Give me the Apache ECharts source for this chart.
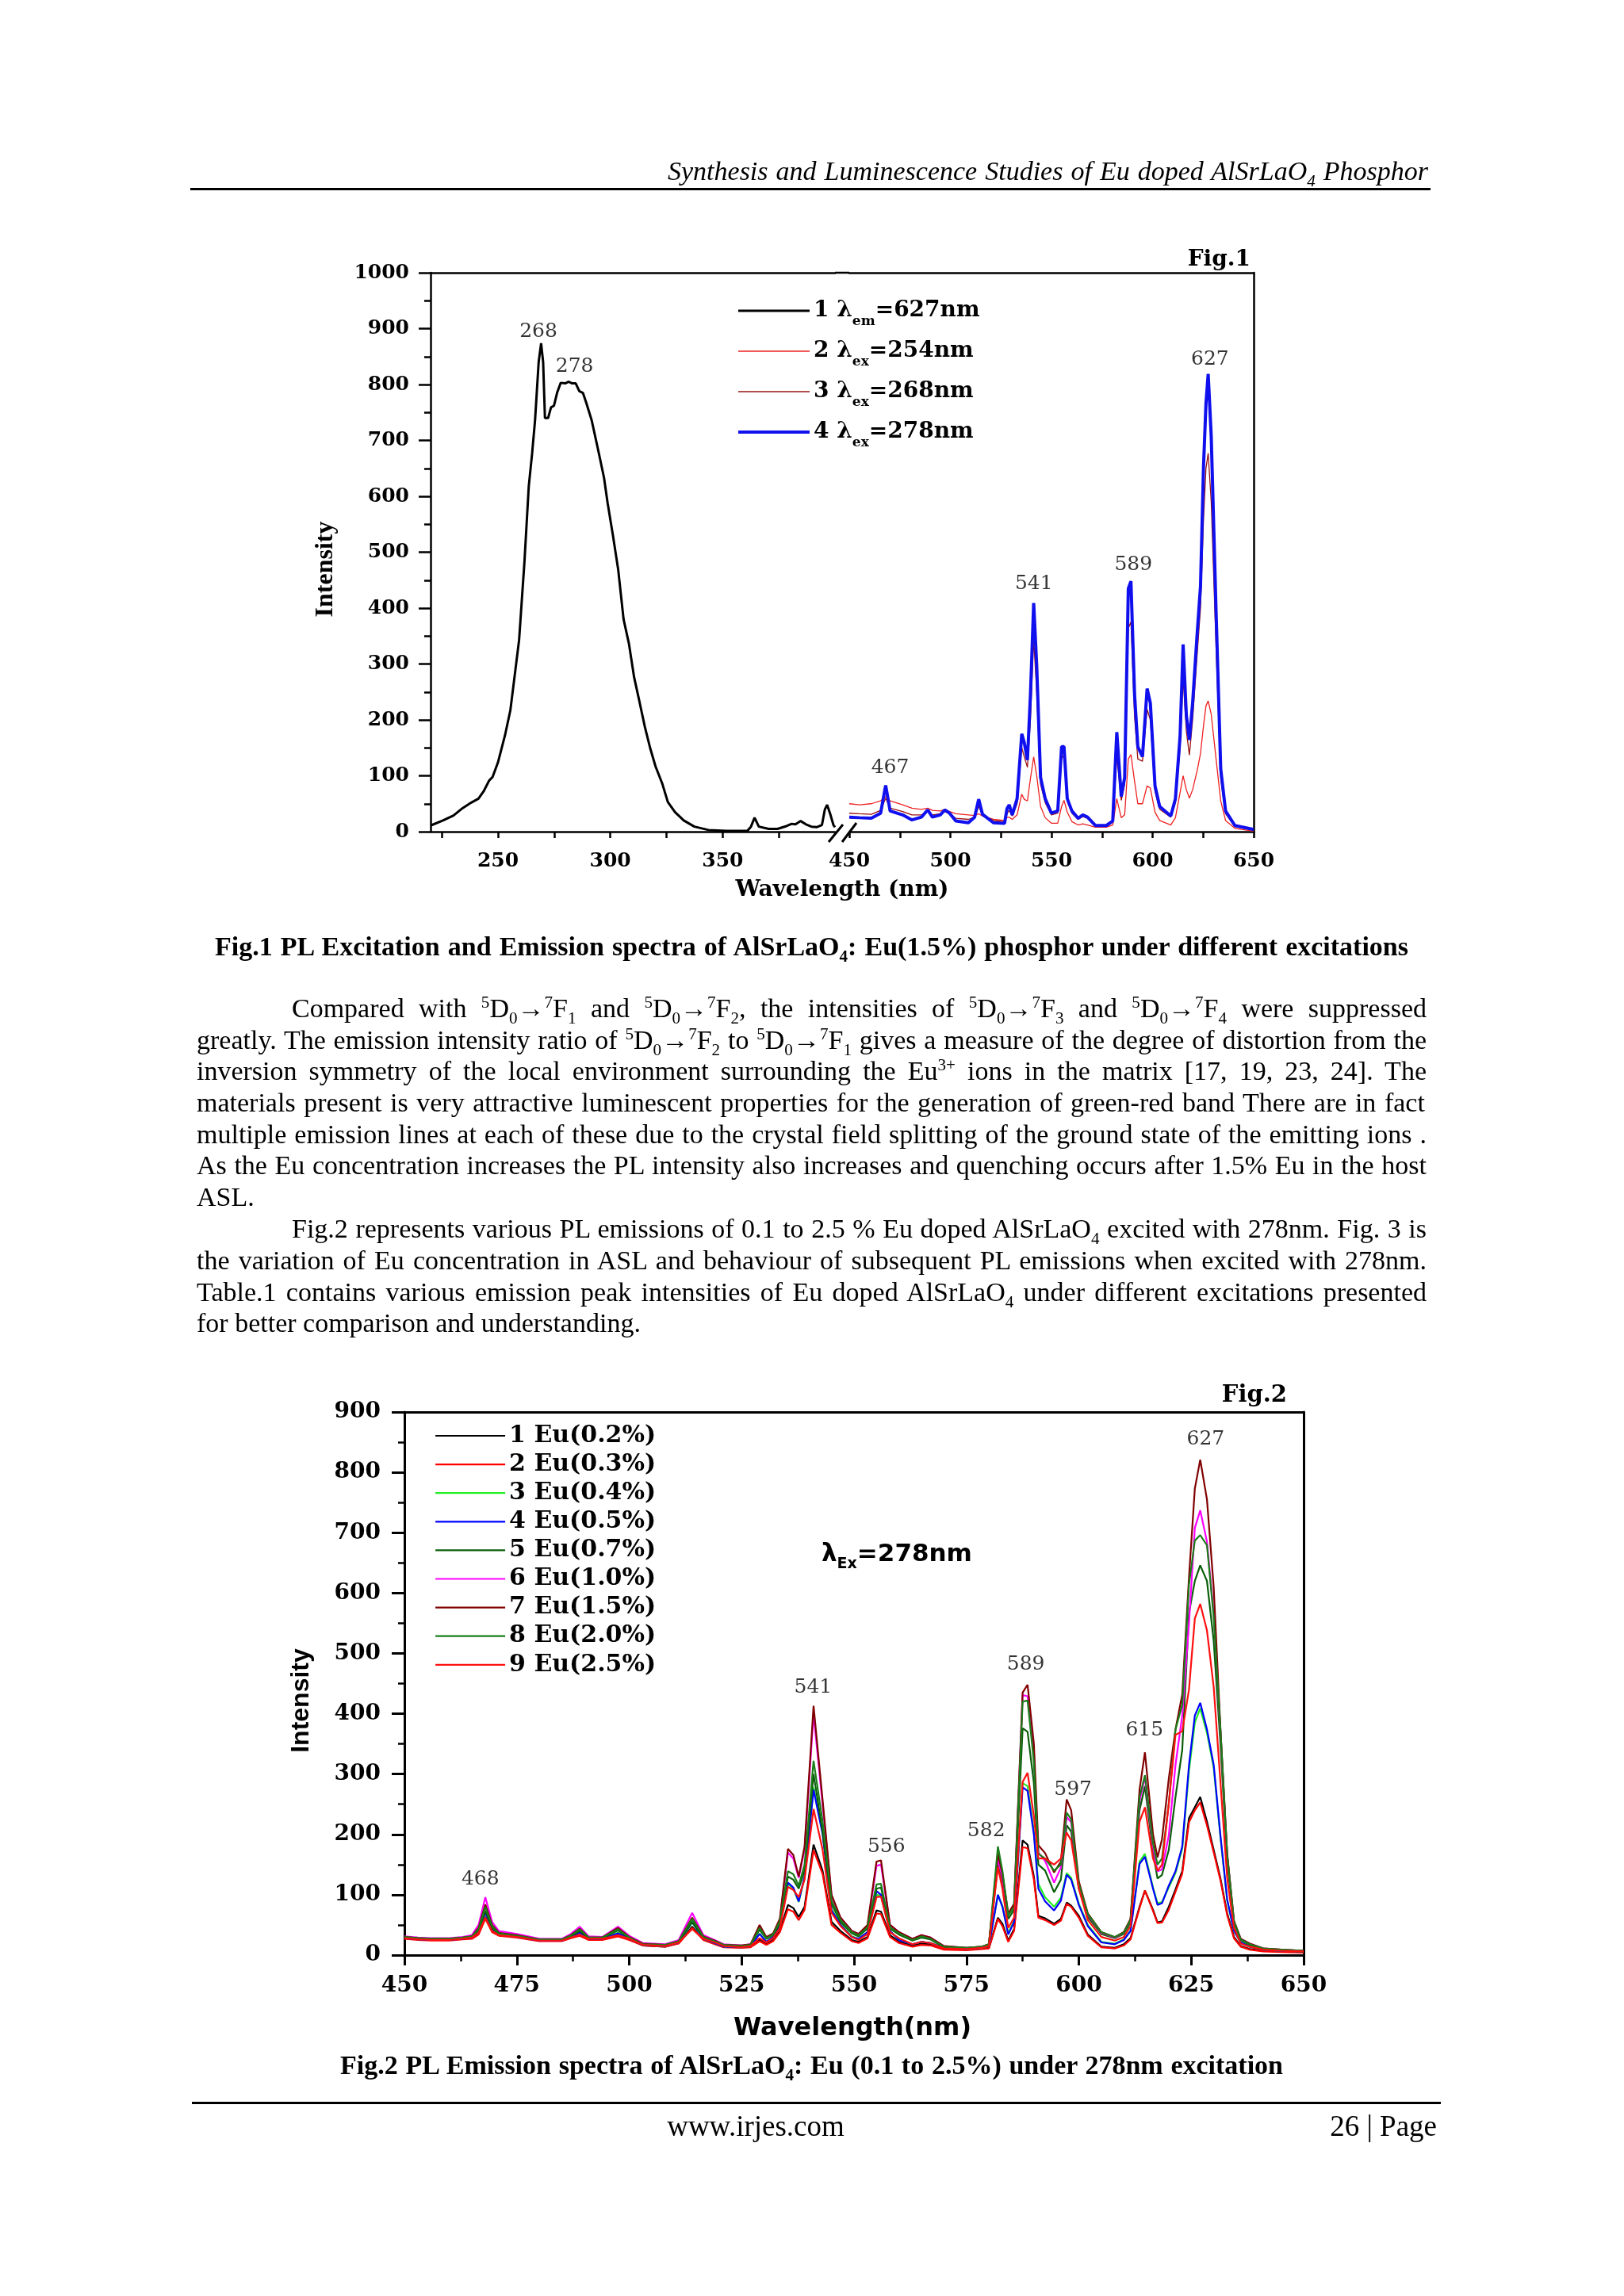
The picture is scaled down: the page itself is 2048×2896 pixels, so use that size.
<!DOCTYPE html>
<html><head><meta charset="utf-8">
<script src="https://cdn.jsdelivr.net/npm/echarts@6/dist/echarts.min.js"></script>
<style>
html,body{margin:0;padding:0;background:#fff;}
#page{position:relative;width:2048px;height:2896px;background:#fff;overflow:hidden;}
#chart{position:absolute;left:0;top:0;width:2048px;height:2896px;}
.t{position:absolute;white-space:nowrap;font-family:"Liberation Serif","Times New Roman",serif;color:#000;line-height:40px;font-size:34px;}
.t sub,.t sup{font-size:0.62em;line-height:0;}
.b{font-weight:bold;font-size:34px;}
.rule{position:absolute;background:#000;}
</style></head>
<body>
<div id="page">
<div id="chart"></div>
<div class="t" style="left:842px;top:196px;font-style:italic;font-size:34px;" data-w="959">Synthesis and Luminescence Studies of Eu doped AlSrLaO<sub>4</sub> Phosphor</div>
<div class="rule" style="left:240px;top:237px;width:1564px;height:3px;"></div>
<div class="t b" style="left:271px;top:1174px;" data-w="1505">Fig.1 PL Excitation and Emission spectra of AlSrLaO<sub>4</sub>: Eu(1.5%) phosphor under different excitations</div>
<div class="t" style="left:368px;top:1252px;" data-w="1431">Compared with <sup>5</sup>D<sub>0</sub>→<sup>7</sup>F<sub>1</sub> and <sup>5</sup>D<sub>0</sub>→<sup>7</sup>F<sub>2</sub>, the intensities of <sup>5</sup>D<sub>0</sub>→<sup>7</sup>F<sub>3</sub> and <sup>5</sup>D<sub>0</sub>→<sup>7</sup>F<sub>4</sub> were suppressed</div>
<div class="t" style="left:248px;top:1292px;" data-w="1551">greatly. The emission intensity ratio of <sup>5</sup>D<sub>0</sub>→<sup>7</sup>F<sub>2</sub> to <sup>5</sup>D<sub>0</sub>→<sup>7</sup>F<sub>1</sub> gives a measure of the degree of distortion from the</div>
<div class="t" style="left:248px;top:1331px;" data-w="1551">inversion symmetry of the local environment surrounding the Eu<sup>3+</sup> ions in the matrix [17, 19, 23, 24]. The</div>
<div class="t" style="left:248px;top:1371px;" data-w="1551">materials present is very attractive luminescent properties for the generation of green-red band  There are in fact</div>
<div class="t" style="left:248px;top:1411px;" data-w="1551">multiple emission lines at each of these due to the crystal field splitting of the ground state of the emitting ions .</div>
<div class="t" style="left:248px;top:1450px;" data-w="1551">As the Eu concentration increases the PL intensity also increases and quenching occurs after 1.5% Eu in the host</div>
<div class="t" style="left:248px;top:1490px;">ASL.</div>
<div class="t" style="left:368px;top:1530px;" data-w="1431">Fig.2 represents various PL emissions of 0.1 to 2.5 % Eu doped AlSrLaO<sub>4</sub> excited with 278nm. Fig. 3 is</div>
<div class="t" style="left:248px;top:1570px;" data-w="1551">the variation of Eu concentration in ASL and behaviour of subsequent PL emissions when excited with 278nm.</div>
<div class="t" style="left:248px;top:1610px;" data-w="1551">Table.1 contains various emission peak intensities of Eu doped AlSrLaO<sub>4</sub> under different excitations presented</div>
<div class="t" style="left:248px;top:1649px;">for better comparison and understanding.</div>
<div class="t b" style="left:429px;top:2585px;" data-w="1189">Fig.2 PL Emission spectra of AlSrLaO<sub>4</sub>: Eu (0.1 to 2.5%) under 278nm excitation</div>
<div class="rule" style="left:242px;top:2651px;width:1575px;height:3px;"></div>
<div class="t" style="left:953px;top:2662px;font-size:37px;transform:translateX(-50%);">www.irjes.com</div>
<div class="t" style="right:236px;top:2662px;font-size:37px;">26 | Page</div>
</div>
<script>
// ---------- Fig.1 data ----------
const exWl = [220,225.5,230.2,234.2,238.1,241.3,243.6,246,247.6,250,253.1,255.5,257.8,259.4,261.8,263.7,265.2,266.5,268.1,269.2,270.1,270.9,272.3,273.6,274.9,276.3,277.9,279.9,281.5,283,284.6,286.2,287.8,289.4,291.7,294.9,297.2,298.8,301.2,303.5,305.9,308.3,310.6,313,315.4,317.7,320.1,323.2,325.6,328.8,332.7,337.4,343.7,351.6,361,362.6,364.2,366.1,370.5,374.4,378.4,380.7,382.4,384.7,387.1,389.5,391.8,394.2,395.5,396.5,398,399.3,400];
const exVal = [11,20,29,42,52,59,72,91,98,124,172,217,291,343,484,618,677,736,840,874,840,740,740,759,762,785,803,802,805,802,802,788,785,766,736,677,633,588,529,469,380,336,276,232,187,150,117,85,53,35,20,9,3,1.5,1.5,9,25,9,5,5,10,14,13,19,13,9,8,12,40,48,30,12,8];

const emWl = [450,455,460.9,465.5,468,470.2,476.4,481,485.7,488.8,491.1,495,497.3,499.6,502.7,508.9,512,514,515.9,521.3,526.8,528,529.1,530.6,533,535.3,536.5,538.1,539.6,541.2,542.7,544.6,546.9,550,553.1,555,556.2,557.8,560.1,563.2,565.5,567.8,571.7,577.1,580.3,582.3,584.5,586.2,588,589.3,591.1,592.7,595,597.3,598.9,601.2,603.5,609,611.3,613.6,615.1,616.7,618.2,619.8,622.1,623.7,625.2,626.4,627.5,629,631.4,633.7,636.1,640.7,650];
const em254 = [50,48,50,55,63,55,48,42,40,42, 38,37,40,36,32,30,29,32,28,22, 20,25,26,22,30,67,58,55,95,134, 100,45,25,15,15,45,56,35,18,12, 14,12,8,8,12,59,25,30,130,138, 90,50,50,82,78,35,20,12,25,70, 100,75,60,75,110,140,190,225,234,210, 130,55,20,6,1];
const em268 = [33,32,31,38,60,42,36,30,30,36, 30,32,36,32,24,22,26,45,30,20, 18,32,38,28,50,150,135,115,200,345, 250,85,52,30,33,130,137,55,33,22, 27,24,10,10,17,135,56,85,364,375, 205,130,126,219,200,72,40,26,52,150, 275,180,137,200,320,400,560,650,677,590, 330,95,32,9,3];
const em278 = [26,25,24,33,83,37,30,21,26,39, 26,30,39,33,19,16,26,58,31,16, 15,41,48,30,59,175,160,128,245,409, 297,97,59,33,37,152,152,59,37,24, 30,26,11,11,19,178,63,97,435,448, 245,152,134,256,230,82,45,28,59,171, 335,208,164,230,357,439,654,766,819,708, 394,112,37,11,4];

const fig1Legend = [['1 λ','em','=627nm'],['2 λ','ex','=254nm'],['3 λ','ex','=268nm'],['4 λ','ex','=278nm']];
const fig1LeftTicks = [225,250,275,300,325,350,375];
const fig1LeftLabels = [250,300,350];
const peaks1Left = [[268,894,'268'],[284.1,832,'278']];
const peaks1Right = [[470.2,114,'467'],[541.3,443,'541'],[590.5,477,'589'],[628.4,844,'627']];

// ---------- Fig.2 data ----------
const f2Wl = [450,453,456,460,463,465,466.5,468,469.5,471, 475,480,485,487,489,491,494,497.5,500,503, 508,511,514,516.5,519,521,525,527,529,530.5, 532,533.5,535.3,536.5,537.7,539,541,543,545,547, 549.5,551,553,555,556,558,560,563,565,567, 570,575,578.5,580,582,583,584.3,585.6,587.5,588.6, 590,591,592.5,594.5,596,597.3,598.3,600,602,605, 608,610,611.5,613.5,614.7,616.5,617.5,618.5,620,621.5, 623,624.5,625.8,627,628.5,630,631.5,633,634.5,636, 638,641,645,650];
const eu02 = [28,26,25,25,27,28,36,63,40,33, 30,24,24,29,33,26,26,32,26,16, 14,20,47,26,19,14,13,14,25,18, 25,40,83,78,63,80,183,140,55,40, 25,22,30,74,72,33,22,16,19,18, 10,9,11,12,62,52,24,43,190,183, 130,65,61,52,60,87,82,65,34,14, 12,18,28,80,107,75,54,56,80,109, 139,227,245,262,221,174,127,69,30,15, 10,7,6,5];
const eu03 = [27,25,24,24,26,27,34,60,38,32, 29,23,23,28,32,25,25,31,25,16, 14,19,45,25,18,13,12,13,23,17, 23,38,76,72,58,75,174,135,50,37, 23,20,28,69,68,30,20,14,17,16, 9,8,10,11,60,48,22,40,179,177, 125,62,58,50,57,85,80,62,32,13, 11,16,26,78,107,73,53,54,75,105, 135,220,240,253,215,170,124,66,28,14, 9,6,5,4];
const eu04 = [29,27,26,26,28,30,39,72,43,35, 31,25,25,30,38,28,28,37,28,17, 15,21,54,27,20,14,13,15,36,22, 30,48,118,110,88,128,278,205,76,51, 31,27,38,100,98,40,25,18,22,20, 12,10,12,15,100,82,36,57,285,280, 205,118,96,80,95,136,128,85,50,22, 19,26,41,155,168,112,86,88,112,136, 176,305,385,409,368,310,195,90,40,21, 14,9,7,6];
const eu05 = [28,26,25,25,27,29,38,70,42,34, 30,24,24,30,37,27,27,36,27,17, 15,21,55,27,20,14,13,15,35,22, 30,48,120,112,89,130,274,201,74,50, 30,27,38,106,100,40,25,18,22,20, 12,10,12,15,100,80,34,55,278,272, 200,110,89,74,90,133,125,83,48,21, 18,25,40,151,163,110,83,86,115,139, 180,315,397,418,374,315,198,92,40,21, 14,9,7,6];
const eu07 = [29,27,26,26,28,30,40,73,45,35, 31,25,25,31,40,28,28,41,28,18, 16,22,55,29,22,16,15,17,42,27, 33,52,130,125,110,140,300,205,85,55, 36,31,44,110,112,44,34,24,29,26, 13,11,13,17,150,120,60,75,376,370, 285,150,140,104,125,215,205,110,63,35, 28,35,54,240,280,170,127,133,174,262, 340,567,620,646,620,520,350,155,52,25, 17,10,8,6];
const eu10 = [31,29,28,28,30,33,50,96,55,40, 35,27,27,35,47,31,30,47,32,20, 18,25,70,33,25,18,16,18,46,29, 35,58,170,160,128,175,400,250,98,62, 40,35,48,148,150,50,38,27,33,29, 15,12,14,18,160,128,66,82,431,429, 330,170,156,120,145,229,220,118,67,37, 29,37,58,255,295,180,139,142,198,315, 397,550,708,737,685,565,370,165,56,27, 19,11,9,7];
const eu15 = [30,28,27,27,29,31,45,84,50,37, 33,26,26,33,44,29,29,45,30,19, 17,23,62,31,24,17,16,18,50,30, 36,60,176,166,130,180,413,258,100,62, 40,35,50,155,157,50,38,27,33,29, 15,12,14,18,168,135,69,85,435,448, 350,182,169,137,155,258,240,122,69,38, 30,38,60,274,336,200,162,192,292,374, 432,626,773,821,755,609,374,168,57,27, 19,11,9,7];
const eu20 = [30,28,27,27,29,31,43,80,48,36, 32,26,26,32,43,29,29,43,29,18, 17,23,60,30,23,17,15,17,45,28, 34,56,139,134,115,150,322,222,90,58, 38,33,46,117,118,46,36,25,31,27, 14,12,14,18,180,140,66,80,420,422, 320,168,160,140,150,236,225,118,68,38, 30,37,58,262,298,185,150,160,250,374, 415,614,687,696,679,560,374,165,56,26, 18,11,9,7];
const eu25 = [28,26,25,25,27,29,37,62,40,33, 30,24,24,29,34,27,27,33,27,17, 15,21,43,27,21,15,13,15,28,21, 28,45,113,108,96,125,242,175,70,48, 30,25,35,96,97,38,28,18,22,20, 11,10,12,15,146,110,45,62,287,302, 230,160,160,150,160,203,190,110,58,30, 24,30,48,221,245,160,140,150,250,365, 371,440,558,582,538,444,286,127,45,19, 14,9,7,6];

const fig2Names = ['1 Eu(0.2%)','2 Eu(0.3%)','3 Eu(0.4%)','4 Eu(0.5%)','5 Eu(0.7%)','6 Eu(1.0%)','7 Eu(1.5%)','8 Eu(2.0%)','9 Eu(2.5%)'];
const fig2Values = [eu02,eu03,eu04,eu05,eu07,eu10,eu15,eu20,eu25];
const fig2Colors = ['#000000','#ff0000','#22ee22','#0000ff','#0a5e0a','#ff00ff','#800000','#1a7d1a','#ff1010'];
const peaks2 = [[466.9,126,'468'],[540.9,443,'541'],[557.2,180,'556'],[579.4,206,'582'],[588.2,481,'589'],[598.7,274,'597'],[614.6,373,'615'],[628.2,855,'627']];

// ---------- build ----------
const zip = (xs, ys) => xs.map((x, i) => [x, ys[i]]);
const NUMF = 'DejaVu Serif';
const plain = v => String(v);

function lineAxisOnly(grid, pos, min, max, w) {
  return {gridIndex: grid, type: 'value', position: pos, min: min, max: max,
    axisLine: {show: true, onZero: false, lineStyle: {color: '#000', width: w}},
    axisTick: {show: false}, axisLabel: {show: false}, splitLine: {show: false}, minorTick: {show: false}};
}
const AX = {color: '#000', width: 2.5};

const xAxes = [
  {gridIndex: 0, type: 'value', position: 'bottom', min: 220, max: 400,
    axisLine: {show: true, onZero: false, lineStyle: AX},
    axisTick: {show: true, inside: false, length: 8, lineStyle: AX, customValues: fig1LeftTicks},
    axisLabel: {show: true, customValues: fig1LeftLabels, formatter: plain, fontFamily: NUMF, fontWeight: 'bold', fontSize: 25, color: '#000', margin: 25},
    splitLine: {show: false}},
  lineAxisOnly(0, 'top', 220, 400, 2.5),
  {gridIndex: 1, type: 'value', position: 'bottom', min: 450, max: 650, interval: 50,
    axisLine: {show: true, onZero: false, lineStyle: AX},
    axisTick: {show: true, inside: false, length: 8, lineStyle: AX},
    minorTick: {show: true, splitNumber: 2, length: 8, lineStyle: AX},
    axisLabel: {show: true, formatter: plain, fontFamily: NUMF, fontWeight: 'bold', fontSize: 25, color: '#000', margin: 25},
    splitLine: {show: false}, minorSplitLine: {show: false}},
  lineAxisOnly(1, 'top', 450, 650, 2.5),
  {gridIndex: 2, type: 'value', position: 'bottom', min: 450, max: 650, interval: 25,
    axisLine: {show: true, onZero: false, lineStyle: {color: '#000', width: 3}},
    axisTick: {show: true, inside: false, length: 13, lineStyle: {color: '#000', width: 3}},
    minorTick: {show: true, splitNumber: 2, length: 8, lineStyle: {color: '#000', width: 2.5}},
    axisLabel: {show: true, formatter: plain, fontFamily: NUMF, fontWeight: 'bold', fontSize: 28, color: '#000', margin: 25},
    splitLine: {show: false}, minorSplitLine: {show: false}},
  lineAxisOnly(2, 'top', 450, 650, 3)
];
const yAxes = [
  {gridIndex: 0, type: 'value', position: 'left', min: 0, max: 1000, interval: 100,
    axisLine: {show: true, onZero: false, lineStyle: AX},
    axisTick: {show: true, inside: false, length: 15, lineStyle: AX},
    minorTick: {show: true, splitNumber: 2, length: 8, lineStyle: AX},
    axisLabel: {show: true, formatter: plain, fontFamily: NUMF, fontWeight: 'bold', fontSize: 25, color: '#000', margin: 27},
    splitLine: {show: false}, minorSplitLine: {show: false}},
  {gridIndex: 1, type: 'value', position: 'left', min: 0, max: 1000, show: false, splitLine: {show: false}},
  lineAxisOnly(1, 'right', 0, 1000, 2.5),
  {gridIndex: 2, type: 'value', position: 'left', min: 0, max: 900, interval: 100,
    axisLine: {show: true, onZero: false, lineStyle: {color: '#000', width: 3}},
    axisTick: {show: true, inside: false, length: 16, lineStyle: {color: '#000', width: 3}},
    minorTick: {show: true, splitNumber: 2, length: 8, lineStyle: {color: '#000', width: 2.5}},
    axisLabel: {show: true, formatter: plain, fontFamily: NUMF, fontWeight: 'bold', fontSize: 28, color: '#000', margin: 30},
    splitLine: {show: false}, minorSplitLine: {show: false}},
  lineAxisOnly(2, 'right', 0, 900, 3)
];

function lineSeries(name, data, xi, yi, color, width, z) {
  return {name: name, type: 'line', xAxisIndex: xi, yAxisIndex: yi, data: data,
    symbol: 'none', showSymbol: false, smooth: false, animation: false, z: z || 2,
    lineStyle: {color: color, width: width}, itemStyle: {color: color}, emphasis: {disabled: true}};
}
function labelSeries(data, xi, yi, size) {
  return {type: 'scatter', xAxisIndex: xi, yAxisIndex: yi, data: data, symbolSize: 1, silent: true, animation: false, z: 5,
    itemStyle: {color: 'rgba(0,0,0,0)'},
    label: {show: true, position: 'inside', formatter: p => p.value[2], fontFamily: NUMF, fontSize: size, color: '#000'}};
}

const fig1Names = fig1Legend.map(p => p.join(''));
const fig1Colors = ['#000000', '#ee2020', '#9a1010', '#1010ee'];
const fig1Widths = [3, 1.3, 1.3, 4];
const series = [
  lineSeries(fig1Names[0], zip(exWl, exVal), 0, 0, fig1Colors[0], fig1Widths[0]),
  lineSeries(fig1Names[1], zip(emWl, em254), 2, 1, fig1Colors[1], fig1Widths[1]),
  lineSeries(fig1Names[2], zip(emWl, em268), 2, 1, fig1Colors[2], fig1Widths[2]),
  lineSeries(fig1Names[3], zip(emWl, em278), 2, 1, fig1Colors[3], fig1Widths[3]),
];
fig2Names.forEach((n, i) => series.push(lineSeries(n, zip(f2Wl, fig2Values[i]), 4, 3, fig2Colors[i], 2.2, 2 + i * 0.01)));
series.push(labelSeries(peaks1Left, 0, 0, 25));
series.push(labelSeries(peaks1Right, 2, 1, 25));
series.push(labelSeries(peaks2, 4, 3, 25));

const rich1 = {
  a: {fontFamily: NUMF, fontWeight: 'bold', fontSize: 28, lineHeight: 44, color: '#000', verticalAlign: 'middle'},
  s: {fontFamily: NUMF, fontWeight: 'bold', fontSize: 17, lineHeight: 44, color: '#000', verticalAlign: 'bottom'}
};

const option = {
  backgroundColor: '#fff',
  animation: false,
  grid: [
    {left: 543, top: 344, width: 510, height: 705, containLabel: false, outerBoundsMode: 'none'},
    {left: 1071, top: 344, width: 510, height: 705, containLabel: false, outerBoundsMode: 'none'},
    {left: 510, top: 1781, width: 1134, height: 685, containLabel: false, outerBoundsMode: 'none'}
  ],
  xAxis: xAxes,
  yAxis: yAxes,
  legend: [
    {data: fig1Names.map((n, i) => ({name: n, lineStyle: {width: fig1Widths[i], color: fig1Colors[i]}})),
      orient: 'vertical', left: 929, top: 370, itemWidth: 90, itemHeight: 14, itemGap: 7,
      selectedMode: false, padding: 0, itemStyle: {opacity: 0},
      formatter: name => { const p = fig1Legend[fig1Names.indexOf(name)]; return '{a|' + p[0] + '}{s|' + p[1] + '}{a|' + p[2] + '}'; },
      textStyle: {rich: rich1, lineHeight: 44}},
    {data: fig2Names.map((n, i) => ({name: n, lineStyle: {width: 2.2, color: fig2Colors[i]}})),
      orient: 'vertical', left: 548, top: 1796, itemWidth: 88, itemHeight: 14, itemGap: 6.1,
      selectedMode: false, padding: 0, itemStyle: {opacity: 0},
      textStyle: {fontFamily: NUMF, fontWeight: 'bold', fontSize: 30, lineHeight: 30, color: '#000'}}
  ],
  graphic: [
    {type: 'text', x: 1577, y: 328, style: {text: 'Fig.1', font: 'bold 28px "DejaVu Serif"', fill: '#000', textAlign: 'right', textVerticalAlign: 'middle'}},
    {type: 'text', x: 1623, y: 1760, style: {text: 'Fig.2', font: 'bold 29px "DejaVu Serif"', fill: '#000', textAlign: 'right', textVerticalAlign: 'middle'}},
    {type: 'text', x: 411, y: 718, rotation: Math.PI / 2, style: {text: 'Intensity', font: 'bold 32px "Liberation Serif"', fill: '#000', textAlign: 'center', textVerticalAlign: 'middle'}},
    {type: 'text', x: 1062, y: 1123, style: {text: 'Wavelength (nm)', font: 'bold 28px "DejaVu Serif"', fill: '#000', textAlign: 'center', textVerticalAlign: 'middle'}},
    {type: 'text', x: 380, y: 2145, rotation: Math.PI / 2, style: {text: 'Intensity', font: 'bold 32px "Liberation Sans"', fill: '#000', textAlign: 'center', textVerticalAlign: 'middle'}},
    {type: 'text', x: 1075, y: 2559, style: {text: 'Wavelength(nm)', font: 'bold 32px "DejaVu Sans"', fill: '#000', textAlign: 'center', textVerticalAlign: 'middle'}},
    {type: 'text', x: 1036, y: 1939, style: {text: '{a|λ}{s|Ex}{a|=278nm}', textAlign: 'left', textVerticalAlign: 'top',
      rich: {a: {fontFamily: 'DejaVu Sans', fontWeight: 'bold', fontSize: 31, lineHeight: 44, fill: '#000', color: '#000', verticalAlign: 'middle'},
             s: {fontFamily: 'DejaVu Sans', fontWeight: 'bold', fontSize: 19, lineHeight: 44, fill: '#000', color: '#000', verticalAlign: 'bottom'}}}},
    {type: 'line', shape: {x1: 1053, y1: 344, x2: 1071, y2: 344}, style: {stroke: '#000', lineWidth: 2.5}},
    {type: 'line', shape: {x1: 1045, y1: 1062, x2: 1063, y2: 1040}, style: {stroke: '#000', lineWidth: 3}},
    {type: 'line', shape: {x1: 1062, y1: 1062, x2: 1080, y2: 1038}, style: {stroke: '#000', lineWidth: 3}}
  ],
  series: series
};

const chart = echarts.init(document.getElementById('chart'), null, {renderer: 'canvas'});
chart.setOption(option);

// justify each text line to its measured width
document.querySelectorAll('[data-w]').forEach(el => {
  const target = +el.dataset.w;
  const w = el.getBoundingClientRect().width;
  const n = (el.textContent.match(/ /g) || []).length;
  if (n > 0) el.style.wordSpacing = ((target - w) / n) + 'px';
});
</script>
</body></html>
